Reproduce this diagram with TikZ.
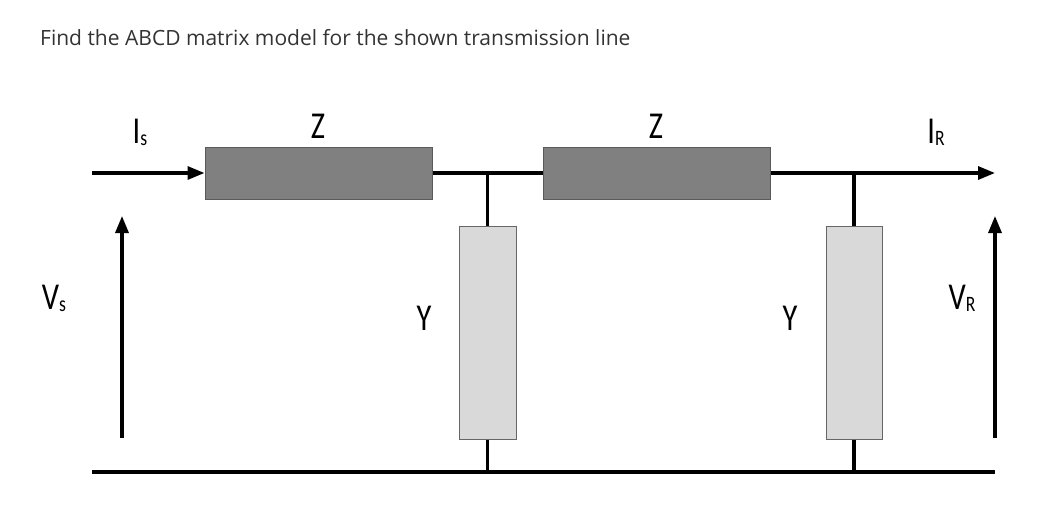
\documentclass[tikz,border=0pt]{standalone}
\usepackage{fontspec}
\setmainfont{Open Sans}
\newfontfamily\lab{Carlito}
\usetikzlibrary{arrows.meta}
\definecolor{zfill}{HTML}{808080}
\definecolor{yfill}{HTML}{D9D9D9}
\newcommand{\mysub}[1]{\raisebox{-2pt}{\lab\fontsize{22}{22}\selectfont #1}}
\begin{document}
\begin{tikzpicture}[x=1pt,y=-1pt,
  wire/.style={line width=3.2pt,black},
  arr/.style={wire,-{Triangle[length=17pt,width=13pt]}},
  zbox/.style={draw=zfill!70!black,line width=1pt,fill=zfill},
  ybox/.style={draw=black!60,line width=1pt,fill=yfill},
  lbl/.style={inner sep=0pt,xscale=0.8}]
\useasboundingbox (0,0) rectangle (1050,520);
\node[anchor=west,inner sep=0pt,text=black!80,font=\fontsize{21}{24}\selectfont] (title) at (40,38) {Find the ABCD matrix model for the shown transmission line};
\coordinate (s) at (92,173);
\coordinate (e) at (995,173);
\coordinate (bl) at (92,472);
\coordinate (br) at (995,472);
\node[zbox,minimum width=227pt,minimum height=52pt,inner sep=0pt] (z1) at (318.5,173) {};
\node[zbox,minimum width=227pt,minimum height=52pt,inner sep=0pt] (z2) at (656.5,173) {};
\node[ybox,minimum width=57pt,minimum height=213pt,inner sep=0pt] (y1) at (487.5,332.5) {};
\node[ybox,minimum width=56pt,minimum height=213pt,inner sep=0pt] (y2) at (854,332.5) {};
\draw[arr] (s) -- (z1.west);
\draw[wire] (z1.east) -- (z2.west);
\draw[arr] (z2.east) -- (e);
\draw[wire] (y1.north) -- (487.5,173);
\draw[wire] (y2.north) -- (854,173);
\draw[wire] (y1.south) -- (487.5,472);
\draw[wire] (y2.south) -- (854,472);
\draw[wire] (bl) -- (br);
\coordinate (vs0) at (122,438);
\coordinate (vs1) at (122,216);
\coordinate (vr0) at (995,438);
\coordinate (vr1) at (995,216);
\draw[arr] (vs0) -- (vs1);
\draw[arr] (vr0) -- (vr1);
\node[lbl] (is) at (140,132) {\lab\fontsize{38}{38}\selectfont I\mysub{s}};
\node[lbl] (za) at (318,126) {\lab\fontsize{38}{38}\selectfont Z};
\node[lbl] (zb) at (656,126) {\lab\fontsize{38}{38}\selectfont Z};
\node[lbl] (ir) at (936,132) {\lab\fontsize{38}{38}\selectfont I\mysub{R}};
\node[lbl] (vs) at (54,298) {\lab\fontsize{38}{38}\selectfont V\mysub{s}};
\node[lbl] (ya) at (424,318) {\lab\fontsize{38}{38}\selectfont Y};
\node[lbl] (yb) at (790,318) {\lab\fontsize{38}{38}\selectfont Y};
\node[lbl] (vr) at (962,298) {\lab\fontsize{38}{38}\selectfont V\mysub{R}};
\end{tikzpicture}
\end{document}
